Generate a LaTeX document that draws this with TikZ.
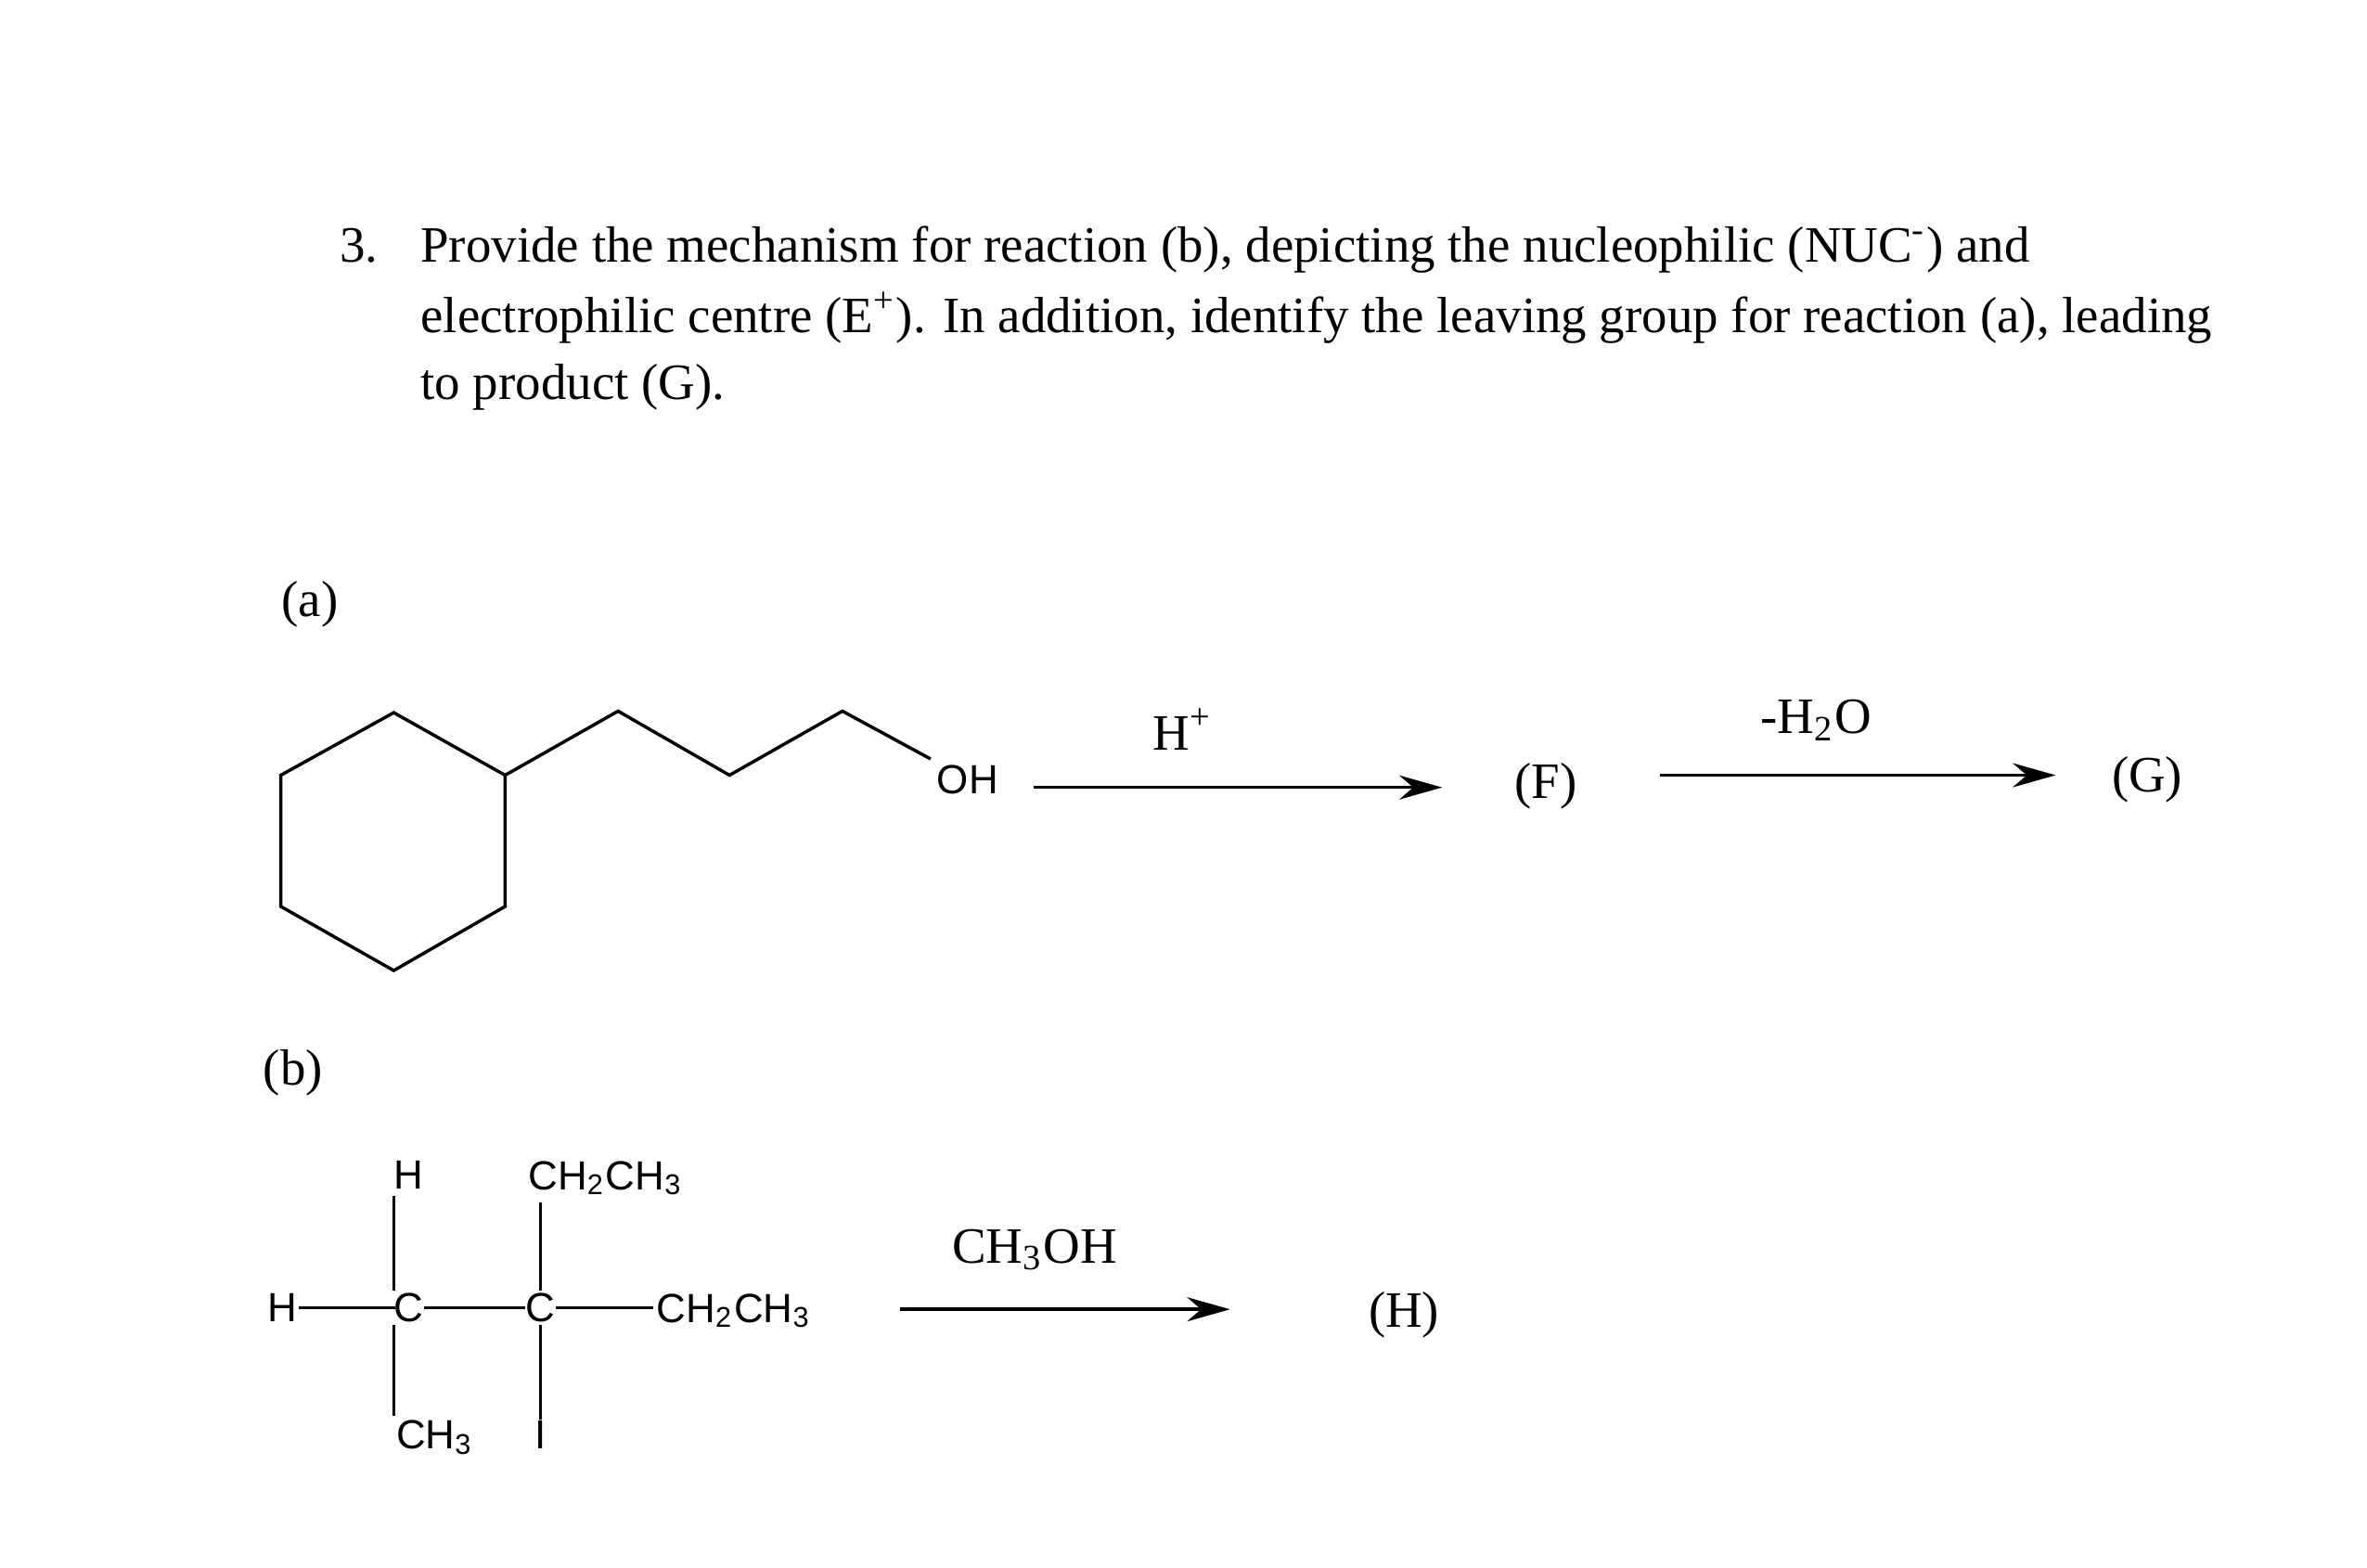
\documentclass[tikz,border=0pt]{standalone}
\usepackage{fontspec}
\setmainfont{Liberation Serif}
\newfontfamily\chem{Liberation Sans}
\usetikzlibrary{arrows.meta}
\begin{document}
\begin{tikzpicture}[x=0.1mm,y=-0.1mm,
  txt/.style={font=\fontsize{9.5}{11.5}\selectfont,inner sep=0pt},
  lab/.style={font=\chem\fontsize{7.6}{9}\selectfont,inner sep=1pt},
  bond/.style={line width=0.6pt},
  rxn/.style={line width=0.6pt,-{Stealth[length=8pt,width=4.5pt]}}]
\useasboundingbox (0,0) rectangle (1551,1027);
% question
\node[txt,anchor=base west] (n3) at (222,172) {3.};
\node[txt,anchor=base west] (l1) at (275,172) {Provide the mechanism for reaction (b), depicting the nucleophilic (NUC\textsuperscript{-}) and};
\node[txt,anchor=base west] (l2) at (275,218) {electrophilic centre (E\textsuperscript{+}). In addition, identify the leaving group for reaction (a), leading};
\node[txt,anchor=base west] (l3) at (275,262) {to product (G).};
\node[txt] (la) at (203,396) {(a)};
\node[txt] (lb) at (192,703) {(b)};
% (a) structure
\coordinate (h1) at (258,467); \coordinate (h2) at (331,508); \coordinate (h3) at (331,594);
\coordinate (h4) at (258,636); \coordinate (h5) at (184,594); \coordinate (h6) at (184,508);
\draw[bond] (h1)--(h2)--(h3)--(h4)--(h5)--(h6)--cycle;
\coordinate (c1) at (405,466); \coordinate (c2) at (478,508); \coordinate (c3) at (552,466);
\node[lab] (oh) at (634,511) {OH};
\draw[bond] (h2)--(c1)--(c2)--(c3)--(oh.north west);
\coordinate (a1s) at (677,516); \coordinate (a1e) at (945,516);
\draw[rxn] (a1s)--(a1e);
\node[txt] (hp) at (775,478) {H\textsuperscript{+}};
\node[txt] (F) at (1013,515) {(F)};
\coordinate (a2s) at (1088,508); \coordinate (a2e) at (1347,508);
\draw[rxn] (a2s)--(a2e);
\node[txt] (mh2o) at (1190,472) {-H\textsubscript{2}O};
\node[txt] (G) at (1407,511) {(G)};
% (b) structure
\node[lab] (Ht) at (268,770) {H};
\node[lab] (Et1) at (397,772) {CH\textsubscript{2}CH\textsubscript{3}};
\node[lab] (Hl) at (185,857) {H};
\node[lab] (C1) at (268,857) {C};
\node[lab] (C2) at (354,857) {C};
\node[lab] (Et2) at (481,859) {CH\textsubscript{2}CH\textsubscript{3}};
\node[lab] (Me) at (285,942) {CH\textsubscript{3}};
\node[lab] (I) at (354,940) {I};
\draw[bond] (196,857)--(259,857);
\draw[bond] (278,857)--(344,857);
\draw[bond] (364,857)--(428,857);
\draw[bond] (258,784)--(258,846);
\draw[bond] (258,868)--(258,928);
\draw[bond] (354,788)--(354,846);
\draw[bond] (354,868)--(354,930);
\coordinate (a3s) at (590,858); \coordinate (a3e) at (806,858);
\draw[rxn] (a3s)--(a3e);
\node[txt] (meoh) at (678,819) {CH\textsubscript{3}OH};
\node[txt] (Hp) at (920,862) {(H)};
\end{tikzpicture}
\end{document}
